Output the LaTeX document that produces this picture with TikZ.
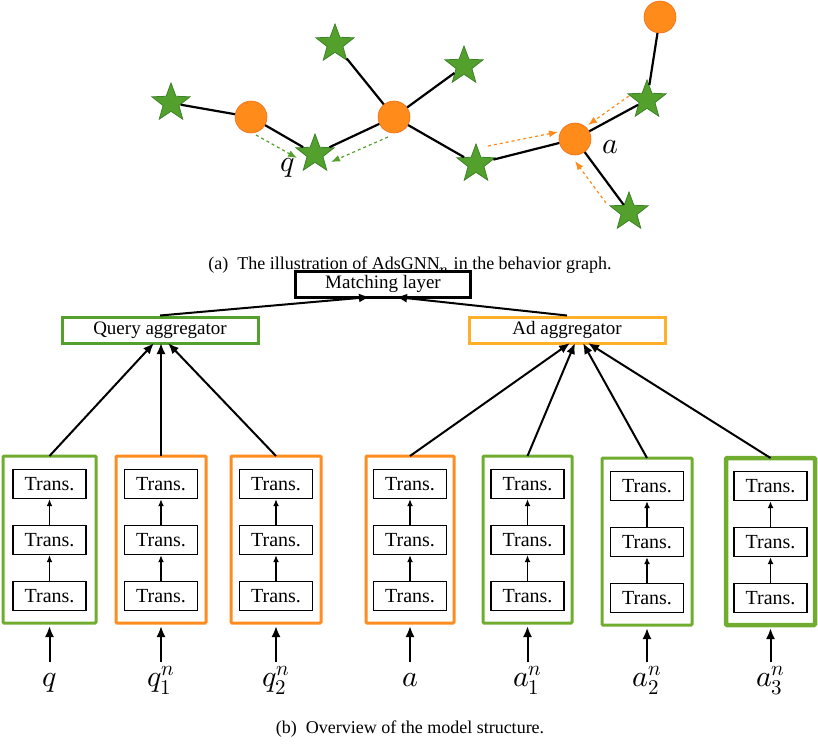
\documentclass[tikz,border=0pt]{standalone}
\usepackage{fontspec}
\setmainfont{Liberation Serif}
\usepackage{unicode-math}
\usetikzlibrary{shapes.geometric,arrows.meta}
\definecolor{sg}{RGB}{84,160,44}
\definecolor{sgd}{RGB}{60,130,40}
\definecolor{oc}{RGB}{255,140,26}
\definecolor{ocd}{RGB}{240,110,30}
\definecolor{bg}{RGB}{112,173,47}
\definecolor{bo}{RGB}{255,140,30}
\definecolor{by}{RGB}{255,176,40}
\begin{document}
\begin{tikzpicture}[x=1pt,y=-1pt,
 st/.style={star,star points=5,star point ratio=2.4,minimum size=40,inner sep=0,fill=sg,draw=sgd,line width=0.8},
 ci/.style={circle,minimum size=32,inner sep=0,fill=oc,draw=ocd,line width=0.6},
 ed/.style={line width=2.2},
 da/.style={dashed,line width=1.2,-{Latex[length=9,width=7]}},
 tr/.style={draw,line width=1.3,minimum width=73,minimum height=29,inner sep=0,font=\fontsize{20}{22}\selectfont},
 ob/.style={draw,line width=3,rounded corners=1},
 ag/.style={draw,line width=3,minimum height=26,inner sep=0,font=\fontsize{19}{21}\selectfont},
 ar/.style={line width=2,-{Latex[length=11,width=9]}},
 sa/.style={line width=1.4,-{Latex[length=7,width=6]}},
 lab/.style={font=\fontsize{30}{32}\selectfont},
 captxt/.style={font=\fontsize{18}{20}\selectfont}]
\useasboundingbox (0,0) rectangle (818,745);
% graph
\node[st] (s1) at (171,103) {};
\node[st] (s2) at (335,44) {};
\node[st] (s3) at (464,66) {};
\node[st] (sq) at (315,154) {};
\node[st] (s5) at (476,164) {};
\node[st] (s6) at (647,100) {};
\node[st] (s7) at (629,212) {};
\node[ci] (c1) at (251,117) {};
\node[ci] (c2) at (394,117) {};
\node[ci] (ca) at (575,139) {};
\node[ci] (c4) at (660,17) {};
\draw[ed] (s1) -- (c1); \draw[ed] (c1) -- (sq); \draw[ed] (sq) -- (c2);
\draw[ed] (c2) -- (s2); \draw[ed] (c2) -- (s3); \draw[ed] (c2) -- (s5);
\draw[ed] (s5) -- (ca); \draw[ed] (ca) -- (s6); \draw[ed] (ca) -- (s7); \draw[ed] (s6) -- (c4);
\coordinate (g1a) at (256,135); \coordinate (g1b) at (297,158);
\coordinate (g2a) at (388,137); \coordinate (g2b) at (331,162);
\coordinate (o1a) at (488,146); \coordinate (o1b) at (558,132);
\coordinate (o2a) at (629,96); \coordinate (o2b) at (588,125);
\coordinate (o3a) at (606,203); \coordinate (o3b) at (575,161);
\draw[da,sg] (g1a) -- (g1b); \draw[da,sg] (g2a) -- (g2b);
\draw[da,oc] (o1a) -- (o1b); \draw[da,oc] (o2a) -- (o2b); \draw[da,oc] (o3a) -- (o3b);
\node[lab] (lq) at (288,168) {$q$};
\node[lab] (la) at (610,147) {$a$};
\node[captxt] (capa) at (410,265) {(a)\enspace The illustration of AdsGNN$_{\symbfit{n}}$ in the behavior graph.};
% model
\node[ag,minimum width=175] (ml) at (383,284) {Matching layer};
\node[ag,draw=sg,minimum width=196] (qa) at (160,330) {Query aggregator};
\node[ag,draw=by,minimum width=196] (aa) at (567,330) {Ad aggregator};
\coordinate (m1) at (370,297); \coordinate (m2) at (396,297);
\draw[ar] (qa.north) -- (m1);
\draw[ar] (aa.north) -- (m2);
\foreach \i/\xl/\xr/\yt/\yb/\c/\w/\lab in {
 1/3/96/456/623/bg/3/q, 2/116/206/456/623/bo/3/q^n_1, 3/231/321/456/623/bo/3/q^n_2,
 4/366/454/456/623/bo/3/a, 5/483/572/456/623/bg/3/a^n_1, 6/602/692/458/625/bg/3/a^n_2,
 7/726/815/458/625/bg/4.5/a^n_3}{
 \draw[ob,draw=\c,line width=\w] (\xl,\yt) rectangle (\xr,\yb);
 \coordinate (top\i) at ({(\xl+\xr)/2},\yt);
 \coordinate (bot\i) at ({(\xl+\xr)/2},\yb+3);
 \node[tr] (t\i a) at ({(\xl+\xr)/2},\yt+28) {Trans.};
 \node[tr] (t\i b) at ({(\xl+\xr)/2},\yt+84) {Trans.};
 \node[tr] (t\i c) at ({(\xl+\xr)/2},\yt+140) {Trans.};
 \draw[sa] (t\i c) -- (t\i b); \draw[sa] (t\i b) -- (t\i a);
 \node[lab,anchor=base] (in\i) at ({(\xl+\xr)/2},686) {$\lab$};
 \coordinate (ib\i) at ({(\xl+\xr)/2},662);
 \draw[ar] (ib\i) -- (bot\i);
}
\coordinate (q1) at (154,343); \coordinate (q2) at (161,343); \coordinate (q3) at (168,343);
\draw[ar] (top1) -- (q1); \draw[ar] (top2) -- (q2); \draw[ar] (top3) -- (q3);
\coordinate (a1) at (570,343); \coordinate (a2) at (575,343); \coordinate (a3) at (583,343); \coordinate (a4) at (588,343);
\draw[ar] (top4) -- (a1); \draw[ar] (top5) -- (a2); \draw[ar] (top6) -- (a3); \draw[ar] (top7) -- (a4);
\node[captxt] (capb) at (410,729) {(b)\enspace Overview of the model structure.};
\end{tikzpicture}
\end{document}
